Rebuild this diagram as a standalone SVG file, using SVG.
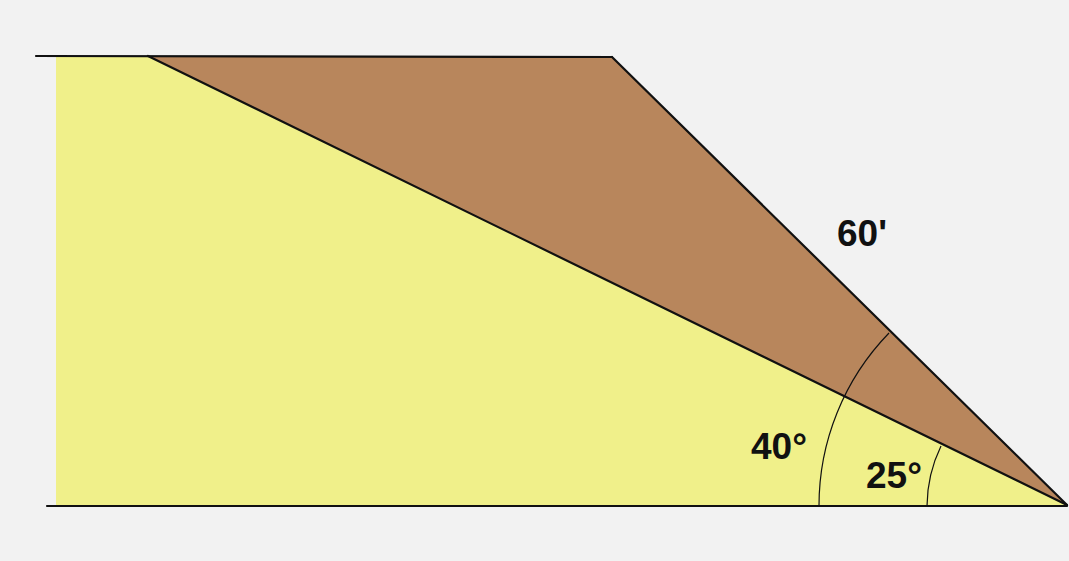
<svg xmlns="http://www.w3.org/2000/svg" width="1069" height="561" viewBox="0 0 1069 561">
<style>
.ln{stroke:#111;stroke-width:2.2;fill:none;stroke-linecap:round}
.arc{stroke:#111;stroke-width:1.2;fill:none}
.lbl{font-family:"Liberation Sans",Arial,sans-serif;font-weight:bold;font-size:37px;fill:#111}
</style>
<rect width="1069" height="561" fill="#f2f2f2"/>
<g id="ground">
<polygon points="56,56 148,56 1067,505 56,506" fill="#f0f08a"/>
</g>
<g id="fill">
<polygon points="148,56 612,57 1067,505" fill="#b8865c"/>
</g>
<g id="lines">
<line class="ln" x1="36" y1="56" x2="612" y2="57"/>
<line class="ln" x1="148" y1="56" x2="1067" y2="505"/>
<line class="ln" x1="612" y1="57" x2="1067" y2="505"/>
<line class="ln" x1="47" y1="506" x2="1067" y2="506"/>
<path class="arc" d="M819,506 A248,248 0 0 1 889,333"/>
<path class="arc" d="M927,506 A140,140 0 0 1 941,446"/>
</g>
<g id="labels">
<text class="lbl" x="751" y="459">40°</text>
<text class="lbl" x="866" y="488">25°</text>
<text class="lbl" x="837" y="246">60'</text>
</g>
</svg>
